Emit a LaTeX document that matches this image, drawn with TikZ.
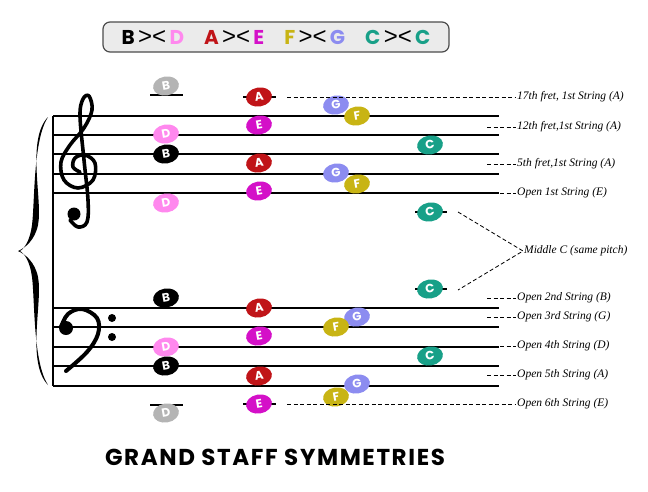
\documentclass[tikz,border=0pt]{standalone}
\usepackage{fontspec}
\setmainfont{Liberation Serif}
\newfontfamily\pop{Poppins}
\newfontfamily\popsp{Poppins}[LetterSpace=7]
\newfontfamily\lsans{Liberation Sans}
\usetikzlibrary{shapes.geometric}
\definecolor{cB}{HTML}{000000}
\definecolor{cD}{HTML}{FF88EE}
\definecolor{cA}{HTML}{C01418}
\definecolor{cE}{HTML}{D410C8}
\definecolor{cF}{HTML}{C8B414}
\definecolor{cG}{HTML}{8C8CF0}
\definecolor{cC}{HTML}{18A088}
\definecolor{cX}{HTML}{B4B4B4}
\newcommand{\gtlt}{\textcolor{black}{\,{\lsans\mdseries\fontsize{24}{24}\selectfont ><}\,}}
\begin{document}
\begin{tikzpicture}[x=1pt,y=-1pt,
  note/.style={ellipse,fill=#1,minimum width=26pt,minimum height=19pt,inner sep=0pt,rotate=10,text=white,font=\pop\bfseries\fontsize{12}{12}\selectfont},
  lbl/.style={anchor=west,font=\itshape\fontsize{11.5}{11.5}\selectfont,inner sep=1pt},
  dsh/.style={dashed,thick,dash pattern=on 4pt off 2.5pt},
  staffline/.style={line width=1.3pt}]
\useasboundingbox (0,0) rectangle (648,491);
% banner
\node[draw=black!70,fill=black!8,rounded corners=7pt,line width=1.2pt,minimum width=346pt,minimum height=30pt,font=\pop\bfseries\fontsize{20}{20}\selectfont] (banner) at (276,37)
 {\textcolor{cB}{B}\gtlt\textcolor{cD}{D}\quad\textcolor{cA}{A}\gtlt\textcolor{cE}{E}\quad\textcolor{cF}{F}\gtlt\textcolor{cG}{G}\quad\textcolor{cC}{C}\gtlt\textcolor{cC}{C}};
% staves
\foreach \y in {116,135,154,174,193,308,327,347,366,386}
  \draw[staffline] (53,\y) -- (499,\y);
\draw[line width=1.3pt] (53,116) -- (53,386);
% brace
\fill (48,117) .. controls (26,140) and (43,200) .. (38,225) .. controls (35,240) and (25,248) .. (18,251)
  .. controls (25,254) and (35,262) .. (38,277) .. controls (43,302) and (26,362) .. (48,385)
  .. controls (33,362) and (35,302) .. (32,277) .. controls (30,262) and (25,254) .. (20,251)
  .. controls (25,248) and (30,240) .. (32,225) .. controls (35,200) and (33,140) .. (48,117) -- cycle;
% treble clef (drawn)
\draw[line width=3.6pt,line cap=round,line join=round] plot[smooth,tension=0.6] coordinates
  {(80,172) (73,167) (75,158) (85,155) (95,163) (93,180) (78,188) (64,180) (61,162) (70,145) (84,128) (92,110) (89,96) (83,99) (80,116) (84,160) (88,200) (87,222) (78,227) (70,220)};
\fill (74,214) circle (6.5pt);
% bass clef (drawn)
\draw[line width=4pt,line cap=round] plot[smooth,tension=0.6] coordinates
  {(61,327) (68,314) (82,309) (97,318) (98,334) (87,352) (66,371)};
\fill (66,328) circle (7pt);
\fill (112,318) circle (4pt);
\fill (112,337) circle (4pt);
% ledger lines
\draw[staffline] (150,95) -- (183,95);
\draw[staffline] (150,405) -- (183,405);
\draw[staffline] (243,97) -- (276,97);
\draw[staffline] (243,404) -- (276,404);
\draw[staffline] (415,212) -- (447,212);
\draw[staffline] (415,289) -- (447,289);
% notes
\node[note=cX] (nB0) at (166,86) {B};
\node[note=cA] (nA1) at (259,97) {A};
\node[note=cG] (nG1) at (336,105) {G};
\node[note=cF] (nF1) at (357,116) {F};
\node[note=cE] (nE1) at (259,125) {E};
\node[note=cD] (nD1) at (166,134) {D};
\node[note=cC] (nC1) at (430,145) {C};
\node[note=cB] (nB1) at (166,154) {B};
\node[note=cA] (nA2) at (259,163) {A};
\node[note=cG] (nG2) at (336,173) {G};
\node[note=cF] (nF2) at (357,184) {F};
\node[note=cE] (nE2) at (259,191) {E};
\node[note=cD] (nD2) at (166,203) {D};
\node[note=cC] (nC2) at (430,212) {C};
\node[note=cC] (nC3) at (430,289) {C};
\node[note=cB] (nB2) at (166,298) {B};
\node[note=cA] (nA3) at (259,308) {A};
\node[note=cG] (nG3) at (357,317) {G};
\node[note=cF] (nF3) at (336,327) {F};
\node[note=cE] (nE3) at (259,336) {E};
\node[note=cD] (nD3) at (166,347) {D};
\node[note=cC] (nC4) at (430,356) {C};
\node[note=cB] (nB3) at (166,366) {B};
\node[note=cA] (nA4) at (259,376) {A};
\node[note=cG] (nG4) at (357,384) {G};
\node[note=cF] (nF4) at (336,397) {F};
\node[note=cE] (nE4) at (259,404) {E};
\node[note=cX] (nD4) at (166,413) {D};
% labels
\node[lbl] (l1) at (516,97) {17th fret, 1st String (A)};
\node[lbl] (l2) at (516,127) {12th fret,1st String (A)};
\node[lbl] (l3) at (516,164) {5th fret,1st String (A)};
\node[lbl] (l4) at (516,193) {Open 1st String (E)};
\node[lbl] (l5) at (523,251) {Middle C (same pitch)};
\node[lbl] (l6) at (516,298) {Open 2nd String (B)};
\node[lbl] (l7) at (516,317) {Open 3rd String (G)};
\node[lbl] (l8) at (516,346) {Open 4th String (D)};
\node[lbl] (l9) at (516,375) {Open 5th String (A)};
\node[lbl] (l10) at (516,404) {Open 6th String (E)};
\coordinate (s2) at (487,127); \coordinate (s3) at (487,164);
\coordinate (s4) at (500,193); \coordinate (s6) at (487,298);
\coordinate (s7) at (487,317); \coordinate (s8) at (487,346);
\coordinate (s9) at (487,375);
\draw[dsh] (287,97) -- (l1.west);
\draw[dsh] (s2) -- (l2.west);
\draw[dsh] (s3) -- (l3.west);
\draw[dsh] (s4) -- (l4.west);
\draw[dsh] (s6) -- (l6.west);
\draw[dsh] (s7) -- (l7.west);
\draw[dsh] (s8) -- (l8.west);
\draw[dsh] (s9) -- (l9.west);
\draw[dsh] (287,404) -- (l10.west);
\draw[dsh] (458,212) -- (l5.west) -- (458,290);
% title
\node[font=\popsp\bfseries\fontsize{23}{23}\selectfont] (title) at (275,457) {GRAND STAFF SYMMETRIES};
\end{tikzpicture}
\end{document}
